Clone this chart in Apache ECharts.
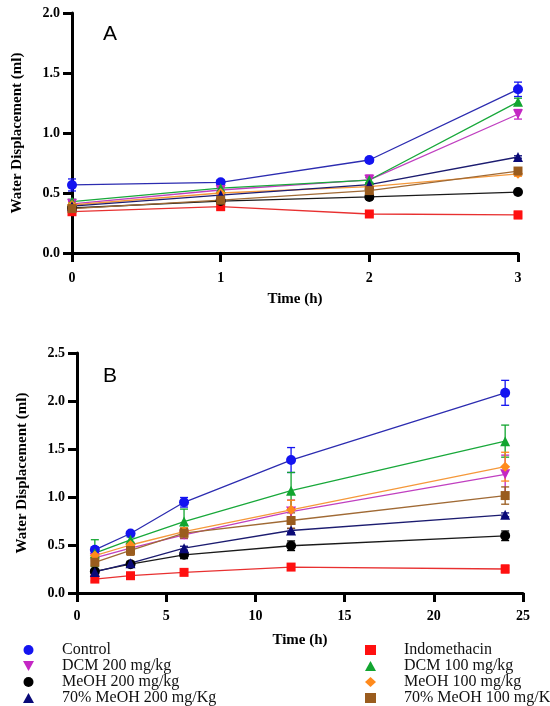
<!DOCTYPE html>
<html>
<head>
<meta charset="utf-8">
<script src="https://cdn.jsdelivr.net/npm/echarts@6/dist/echarts.min.js"></script>
<style>
  html, body { margin: 0; padding: 0; background: #fff; }
  #chart { width: 550px; height: 706px; }
</style>
</head>
<body>
<div id="chart"></div>
<script>
// time points
const timeA = [0, 1, 2, 3];
const timeB = [1, 3, 6, 12, 24];

// panel A means / errors
const aControl = [0.567, 0.589, 0.775, 1.364];
const aIndo = [0.344, 0.386, 0.325, 0.317];
const aDcm200 = [0.41, 0.525, 0.61, 1.156];
const aDcm100 = [0.428, 0.54, 0.608, 1.26];
const aMeoh200 = [0.375, 0.433, 0.467, 0.508];
const aMeoh100 = [0.40, 0.50, 0.553, 0.66];
const aAq200 = [0.39, 0.483, 0.57, 0.80];
const aAq100 = [0.37, 0.44, 0.52, 0.683];

const aControlErr = [0.05, 0.02, 0.02, 0.06];
const aIndoErr = [0.02, 0.02, 0.01, 0.03];
const aDcm200Err = [0.02, 0.02, 0.04, 0.04];
const aDcm100Err = [0.02, 0.02, 0.02, 0.03];
const aMeoh200Err = [0.02, 0.02, 0.02, 0.01];
const aMeoh100Err = [0.02, 0.02, 0.02, 0.02];
const aAq200Err = [0.01, 0.01, 0.01, 0.01];
const aAq100Err = [0.02, 0.02, 0.03, 0.02];

// panel B means / errors
const bControl = [0.45, 0.62, 0.945, 1.385, 2.085];
const bIndo = [0.145, 0.18, 0.215, 0.27, 0.25];
const bDcm200 = [0.365, 0.467, 0.606, 0.848, 1.236];
const bDcm100 = [0.415, 0.554, 0.744, 1.066, 1.582];
const bMeoh200 = [0.225, 0.30, 0.398, 0.492, 0.596];
const bMeoh100 = [0.39, 0.50, 0.64, 0.866, 1.316];
const bAq200 = [0.22, 0.31, 0.467, 0.651, 0.814];
const bAq100 = [0.32, 0.443, 0.623, 0.755, 1.015];

const bControlErr = [0.03, 0.02, 0.05, 0.13, 0.13];
const bIndoErr = [0.02, 0.02, 0.03, 0.03, 0.04];
const bDcm200Err = [0.03, 0.03, 0.04, 0.12, 0.20];
const bDcm100Err = [0.14, 0.03, 0.13, 0.19, 0.167];
const bMeoh200Err = [0.02, 0.03, 0.04, 0.05, 0.05];
const bMeoh100Err = [0.03, 0.03, 0.04, 0.10, 0.15];
const bAq200Err = [0.01, 0.01, 0.02, 0.02, 0.02];
const bAq100Err = [0.03, 0.05, 0.05, 0.08, 0.09];

const groups = [
  { name: 'Control', color: '#1414f0', line: '#2c2cb0', symbol: 'circle', rot: 0, a: aControl, ae: aControlErr, b: bControl, be: bControlErr },
  { name: 'Indomethacin', color: '#ff1010', line: '#e83030', symbol: 'rect', rot: 0, a: aIndo, ae: aIndoErr, b: bIndo, be: bIndoErr },
  { name: 'DCM 200 mg/kg', color: '#c427c4', line: '#c040c0', symbol: 'triangle', rot: 180, a: aDcm200, ae: aDcm200Err, b: bDcm200, be: bDcm200Err },
  { name: 'DCM 100 mg/kg', color: '#12a530', line: '#18a83a', symbol: 'triangle', rot: 0, a: aDcm100, ae: aDcm100Err, b: bDcm100, be: bDcm100Err },
  { name: 'MeOH 200 mg/kg', color: '#000000', line: '#1a1a1a', symbol: 'circle', rot: 0, a: aMeoh200, ae: aMeoh200Err, b: bMeoh200, be: bMeoh200Err },
  { name: 'MeOH 100 mg/kg', color: '#ff8a1c', line: '#f5983a', symbol: 'diamond', rot: 0, a: aMeoh100, ae: aMeoh100Err, b: bMeoh100, be: bMeoh100Err },
  { name: '70% MeOH 200 mg/Kg', color: '#0a0a78', line: '#1c1c70', symbol: 'triangle', rot: 0, a: aAq200, ae: aAq200Err, b: bAq200, be: bAq200Err },
  { name: '70% MeOH 100 mg/Kg', color: '#9a5c1e', line: '#a06a35', symbol: 'rect', rot: 0, a: aAq100, ae: aAq100Err, b: bAq100, be: bAq100Err }
];

const serif = 'Liberation Serif';

function errSeries(xs, ys, es, color, idx) {
  return {
    type: 'custom',
    xAxisIndex: idx, yAxisIndex: idx,
    silent: true,
    z: 3,
    data: xs.map((x, i) => [x, ys[i] - es[i], ys[i] + es[i]]),
    encode: { x: 0, y: [1, 2] },
    renderItem: function (params, api) {
      const top = api.coord([api.value(0), api.value(2)]);
      const bot = api.coord([api.value(0), api.value(1)]);
      const st = { stroke: color, lineWidth: 1.3 };
      return {
        type: 'group',
        children: [
          { type: 'line', shape: { x1: top[0], y1: top[1], x2: bot[0], y2: bot[1] }, style: st },
          { type: 'line', shape: { x1: top[0] - 4, y1: top[1], x2: top[0] + 4, y2: top[1] }, style: st },
          { type: 'line', shape: { x1: bot[0] - 4, y1: bot[1], x2: bot[0] + 4, y2: bot[1] }, style: st }
        ]
      };
    }
  };
}

function lineSeries(g, xs, ys, idx) {
  return {
    name: g.name,
    type: 'line',
    xAxisIndex: idx, yAxisIndex: idx,
    data: xs.map((x, i) => [x, ys[i]]),
    symbol: g.symbol,
    symbolRotate: g.rot,
    symbolSize: g.symbol === 'rect' ? 9 : 10,
    itemStyle: { color: g.color },
    lineStyle: { color: g.line, width: 1.3 },
    z: 4
  };
}

const series = [];
groups.forEach(g => {
  series.push(lineSeries(g, timeA, g.a, 0));
  series.push(errSeries(timeA, g.a, g.ae, g.color, 0));
  series.push(lineSeries(g, timeB, g.b, 1));
  series.push(errSeries(timeB, g.b, g.be, g.color, 1));
});

function legendIcon(g) {
  if (g.symbol === 'triangle' && g.rot === 180) return 'path://M0,0L10,0L5,9Z';
  return g.symbol;
}

const col1 = [0, 2, 4, 6].map(i => groups[i]);
const col2 = [1, 3, 5, 7].map(i => groups[i]);

const legendBase = {
  orient: 'vertical',
  top: 637,
  height: 100,
  itemWidth: 11,
  itemHeight: 10,
  itemGap: 0,
  selectedMode: false,
  textStyle: { fontFamily: serif, fontSize: 16, color: '#111', padding: [0, 0, 0, 23], lineHeight: 14 }
};

const axisCommon = {
  axisLine: { lineStyle: { color: '#000', width: 3 } },
  axisTick: { show: true, length: 9, lineStyle: { color: '#000', width: 3 } },
  splitLine: { show: false },
  axisLabel: { color: '#000', fontFamily: serif, fontWeight: 'bold', fontSize: 14 },
  nameTextStyle: { color: '#000', fontFamily: serif, fontWeight: 'bold', fontSize: 15 }
};

const option = {
  animation: false,
  backgroundColor: '#fff',
  grid: [
    { left: 72, right: 32, top: 13, height: 240 },
    { left: 77, right: 27, top: 353, height: 240 }
  ],
  xAxis: [
    Object.assign({}, axisCommon, {
      type: 'value', gridIndex: 0, min: 0, max: 3, interval: 1,
      name: 'Time (h)', nameLocation: 'middle', nameGap: 39,
      axisLabel: Object.assign({}, axisCommon.axisLabel, { margin: 18 })
    }),
    Object.assign({}, axisCommon, {
      type: 'value', gridIndex: 1, min: 0, max: 25, interval: 5,
      name: 'Time (h)', nameLocation: 'middle', nameGap: 40,
      axisLabel: Object.assign({}, axisCommon.axisLabel, { margin: 16 })
    })
  ],
  yAxis: [
    Object.assign({}, axisCommon, {
      type: 'value', gridIndex: 0, min: 0, max: 2, interval: 0.5,
      name: 'Water Displacement (ml)', nameLocation: 'middle', nameGap: 47,
      axisLabel: Object.assign({}, axisCommon.axisLabel, { margin: 12, formatter: v => v.toFixed(1) })
    }),
    Object.assign({}, axisCommon, {
      type: 'value', gridIndex: 1, min: 0, max: 2.5, interval: 0.5,
      name: 'Water Displacement (ml)', nameLocation: 'middle', nameGap: 47,
      axisLabel: Object.assign({}, axisCommon.axisLabel, { margin: 12, formatter: v => v.toFixed(1) })
    })
  ],
  legend: [
    Object.assign({}, legendBase, { left: 18, data: col1.map(g => ({ name: g.name, icon: legendIcon(g) })) }),
    Object.assign({}, legendBase, { left: 360, data: col2.map(g => ({ name: g.name, icon: legendIcon(g) })) })
  ],
  graphic: [
    { type: 'text', left: 103, top: 24, style: { text: 'A', font: '21px Arial, "Liberation Sans"', fill: '#000' } },
    { type: 'text', left: 103, top: 366, style: { text: 'B', font: '21px Arial, "Liberation Sans"', fill: '#000' } }
  ],
  series: series
};

const myChart = echarts.init(document.getElementById('chart'));
myChart.setOption(option);
</script>
</body>
</html>
